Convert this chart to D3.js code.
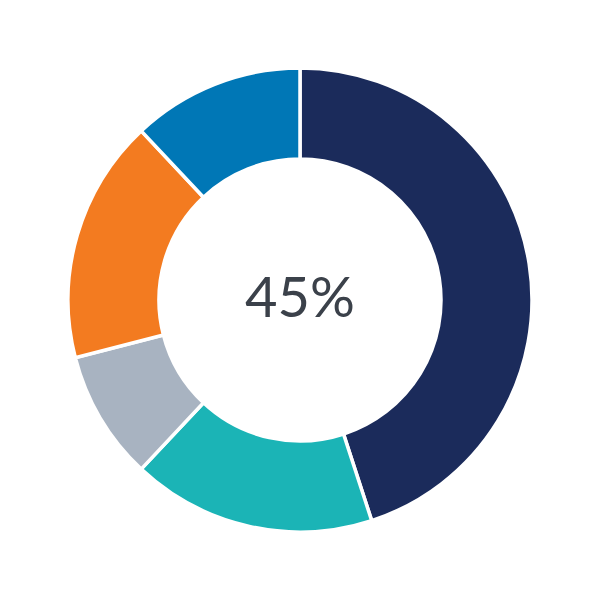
<!DOCTYPE html>
<html>
<head>
<meta charset="utf-8">
<script src="https://cdn.jsdelivr.net/npm/d3@7"></script>
<style>
  html, body { margin: 0; padding: 0; background: #fff; }
</style>
</head>
<body>
<div id="chart"></div>
<script>
// Slice data, clockwise from 12 o'clock
const categories = ['A', 'B', 'C', 'D', 'E'];
const values = [45, 17, 9, 17, 12];
const colors = ['#1b2b5b', '#1bb4b6', '#a8b3c1', '#f37b20', '#0077b6'];
const centerLabel = '45%';

const width = 600, height = 600;
const outerR = 232, innerR = 141;

const svg = d3.select('#chart').append('svg')
  .attr('width', width)
  .attr('height', height);

const g = svg.append('g')
  .attr('transform', `translate(${width / 2}, ${height / 2})`);

const pie = d3.pie().sort(null).value(d => d.value);
const arc = d3.arc().innerRadius(innerR).outerRadius(outerR);

const data = categories.map((c, i) => ({ name: c, value: values[i], color: colors[i] }));

g.selectAll('path')
  .data(pie(data))
  .enter().append('path')
    .attr('d', arc)
    .attr('fill', d => d.data.color)
    .attr('stroke', '#fff')
    .attr('stroke-width', 3.5);

// Center label
g.append('text')
  .attr('text-anchor', 'middle')
  .attr('y', -3)
  .attr('dy', '0.35em')
  .style('font-family', 'Lato, sans-serif')
  .style('font-size', '56px')
  .style('fill', '#3b414a')
  .text(centerLabel);
</script>
</body>
</html>
